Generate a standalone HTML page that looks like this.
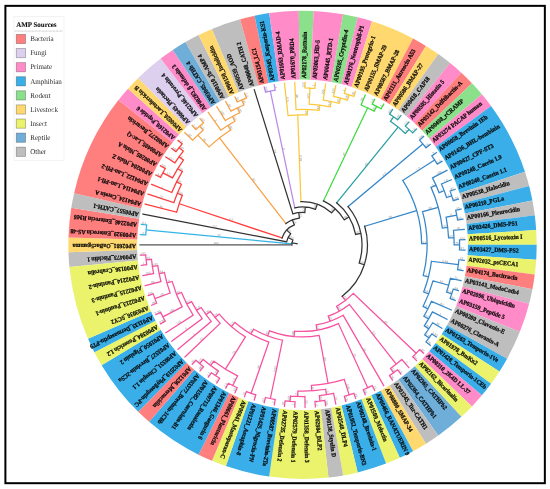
<!DOCTYPE html>
<html><head><meta charset="utf-8"><style>
html,body{margin:0;padding:0;background:#fff;}
svg{display:block;filter:blur(0.35px);text-rendering:geometricPrecision;}
.lb{font-family:"Liberation Serif",serif;font-weight:bold;font-size:6.25px;fill:#000;stroke:#000;stroke-width:0.26px;fill-opacity:0.9;stroke-opacity:0.9;dominant-baseline:central;}
.el{font-family:"Liberation Sans",sans-serif;font-size:3px;fill:#8c8c8c;text-anchor:middle;}
.lg{font-family:"Liberation Serif",serif;font-size:7.4px;fill:#2b2b2b;}
.tt{font-family:"Liberation Serif",serif;font-weight:bold;font-size:7.2px;fill:#111;stroke:#111;stroke-width:0.1px;}
</style></head><body>
<svg width="550" height="489" viewBox="0 0 550 489">
<rect x="0" y="0" width="550" height="489" fill="#fff"/>
<g><path d="M69.41,267.11A234.15,234.15 0 0 1 68.47,252.28L137.18,250.10A165.4,165.4 0 0 0 137.85,260.57Z" fill="#BEBEBE"/><path d="M68.47,252.28A234.15,234.15 0 0 1 68.47,237.42L137.18,239.60A165.4,165.4 0 0 0 137.18,250.10Z" fill="#FFD970"/><path d="M68.47,237.42A234.15,234.15 0 0 1 71.29,207.85L139.18,218.72A165.4,165.4 0 0 0 137.18,239.60Z" fill="#FF7F7F"/><path d="M71.29,207.85A234.15,234.15 0 0 1 74.10,193.26L141.16,208.41A165.4,165.4 0 0 0 139.18,218.72Z" fill="#BEBEBE"/><path d="M74.10,193.26A234.15,234.15 0 0 1 118.45,100.11L172.49,142.61A165.4,165.4 0 0 0 141.16,208.41Z" fill="#FF7F7F"/><path d="M118.45,100.11A234.15,234.15 0 0 1 128.00,88.73L179.23,134.57A165.4,165.4 0 0 0 172.49,142.61Z" fill="#FF8CC8"/><path d="M128.00,88.73A234.15,234.15 0 0 1 138.25,77.97L186.48,126.97A165.4,165.4 0 0 0 179.23,134.57Z" fill="#FFD970"/><path d="M138.25,77.97A234.15,234.15 0 0 1 160.70,58.52L202.33,113.23A165.4,165.4 0 0 0 186.48,126.97Z" fill="#DCD0EE"/><path d="M160.70,58.52A234.15,234.15 0 0 1 172.80,49.90L210.88,107.14A165.4,165.4 0 0 0 202.33,113.23Z" fill="#FF8CC8"/><path d="M172.80,49.90A234.15,234.15 0 0 1 185.42,42.07L219.80,101.61A165.4,165.4 0 0 0 210.88,107.14Z" fill="#6EAED8"/><path d="M185.42,42.07A234.15,234.15 0 0 1 198.52,35.05L229.05,96.65A165.4,165.4 0 0 0 219.80,101.61Z" fill="#BEBEBE"/><path d="M198.52,35.05A234.15,234.15 0 0 1 212.04,28.88L238.60,92.29A165.4,165.4 0 0 0 229.05,96.65Z" fill="#FFD970"/><path d="M212.04,28.88A234.15,234.15 0 0 1 240.11,19.17L258.43,85.43A165.4,165.4 0 0 0 238.60,92.29Z" fill="#BEBEBE"/><path d="M240.11,19.17A234.15,234.15 0 0 1 254.54,15.66L268.62,82.96A165.4,165.4 0 0 0 258.43,85.43Z" fill="#FF7F7F"/><path d="M254.54,15.66A234.15,234.15 0 0 1 269.18,13.08L278.96,81.13A165.4,165.4 0 0 0 268.62,82.96Z" fill="#3AAEE8"/><path d="M269.18,13.08A234.15,234.15 0 0 1 298.78,10.73L299.88,79.47A165.4,165.4 0 0 0 278.96,81.13Z" fill="#FF8CC8"/><path d="M298.78,10.73A234.15,234.15 0 0 1 313.64,10.97L310.37,79.64A165.4,165.4 0 0 0 299.88,79.47Z" fill="#8BE08B"/><path d="M313.64,10.97A234.15,234.15 0 0 1 343.16,14.26L331.22,81.96A165.4,165.4 0 0 0 310.37,79.64Z" fill="#FF8CC8"/><path d="M343.16,14.26A234.15,234.15 0 0 1 357.70,17.30L341.49,84.11A165.4,165.4 0 0 0 331.22,81.96Z" fill="#8BE08B"/><path d="M357.70,17.30A234.15,234.15 0 0 1 372.02,21.26L351.61,86.91A165.4,165.4 0 0 0 341.49,84.11Z" fill="#FF8CC8"/><path d="M372.02,21.26A234.15,234.15 0 0 1 413.08,38.46L380.61,99.06A165.4,165.4 0 0 0 351.61,86.91Z" fill="#FFD970"/><path d="M413.08,38.46A234.15,234.15 0 0 1 425.95,45.89L389.70,104.31A165.4,165.4 0 0 0 380.61,99.06Z" fill="#FF7F7F"/><path d="M425.95,45.89A234.15,234.15 0 0 1 438.32,54.12L398.44,110.12A165.4,165.4 0 0 0 389.70,104.31Z" fill="#FFD970"/><path d="M438.32,54.12A234.15,234.15 0 0 1 450.14,63.12L406.79,116.48A165.4,165.4 0 0 0 398.44,110.12Z" fill="#BEBEBE"/><path d="M450.14,63.12A234.15,234.15 0 0 1 461.37,72.85L414.73,123.35A165.4,165.4 0 0 0 406.79,116.48Z" fill="#FF8CC8"/><path d="M461.37,72.85A234.15,234.15 0 0 1 471.96,83.27L422.21,130.71A165.4,165.4 0 0 0 414.73,123.35Z" fill="#FF7F7F"/><path d="M471.96,83.27A234.15,234.15 0 0 1 481.87,94.34L429.20,138.53A165.4,165.4 0 0 0 422.21,130.71Z" fill="#8BE08B"/><path d="M481.87,94.34A234.15,234.15 0 0 1 491.05,106.02L435.69,146.78A165.4,165.4 0 0 0 429.20,138.53Z" fill="#FF8CC8"/><path d="M491.05,106.02A234.15,234.15 0 0 1 524.96,171.79L459.64,193.24A165.4,165.4 0 0 0 435.69,146.78Z" fill="#3AAEE8"/><path d="M524.96,171.79A234.15,234.15 0 0 1 529.15,186.04L462.60,203.31A165.4,165.4 0 0 0 459.64,193.24Z" fill="#BEBEBE"/><path d="M529.15,186.04A234.15,234.15 0 0 1 532.42,200.54L464.91,213.55A165.4,165.4 0 0 0 462.60,203.31Z" fill="#3AAEE8"/><path d="M532.42,200.54A234.15,234.15 0 0 1 534.77,215.21L466.57,223.91A165.4,165.4 0 0 0 464.91,213.55Z" fill="#BEBEBE"/><path d="M534.77,215.21A234.15,234.15 0 0 1 536.18,230.00L467.57,234.36A165.4,165.4 0 0 0 466.57,223.91Z" fill="#3AAEE8"/><path d="M536.18,230.00A234.15,234.15 0 0 1 536.65,244.85L467.90,244.85A165.4,165.4 0 0 0 467.57,234.36Z" fill="#EAF36B"/><path d="M536.65,244.85A234.15,234.15 0 0 1 536.18,259.70L467.57,255.34A165.4,165.4 0 0 0 467.90,244.85Z" fill="#3AAEE8"/><path d="M536.18,259.70A234.15,234.15 0 0 1 534.77,274.49L466.57,265.79A165.4,165.4 0 0 0 467.57,255.34Z" fill="#EAF36B"/><path d="M534.77,274.49A234.15,234.15 0 0 1 532.42,289.16L464.91,276.15A165.4,165.4 0 0 0 466.57,265.79Z" fill="#FF7F7F"/><path d="M532.42,289.16A234.15,234.15 0 0 1 529.15,303.66L462.60,286.39A165.4,165.4 0 0 0 464.91,276.15Z" fill="#BEBEBE"/><path d="M529.15,303.66A234.15,234.15 0 0 1 519.88,331.87L456.05,306.32A165.4,165.4 0 0 0 462.60,286.39Z" fill="#FF8CC8"/><path d="M519.88,331.87A234.15,234.15 0 0 1 507.11,358.69L447.03,325.27A165.4,165.4 0 0 0 456.05,306.32Z" fill="#BEBEBE"/><path d="M507.11,358.69A234.15,234.15 0 0 1 499.48,371.44L441.64,334.27A165.4,165.4 0 0 0 447.03,325.27Z" fill="#3AAEE8"/><path d="M499.48,371.44A234.15,234.15 0 0 1 491.05,383.68L435.69,342.92A165.4,165.4 0 0 0 441.64,334.27Z" fill="#EAF36B"/><path d="M491.05,383.68A234.15,234.15 0 0 1 481.87,395.36L429.20,351.17A165.4,165.4 0 0 0 435.69,342.92Z" fill="#3AAEE8"/><path d="M481.87,395.36A234.15,234.15 0 0 1 471.96,406.43L422.21,358.99A165.4,165.4 0 0 0 429.20,351.17Z" fill="#FF8CC8"/><path d="M471.96,406.43A234.15,234.15 0 0 1 461.37,416.85L414.73,366.35A165.4,165.4 0 0 0 422.21,358.99Z" fill="#EAF36B"/><path d="M461.37,416.85A234.15,234.15 0 0 1 438.32,435.58L398.44,379.58A165.4,165.4 0 0 0 414.73,366.35Z" fill="#6EAED8"/><path d="M438.32,435.58A234.15,234.15 0 0 1 425.95,443.81L389.70,385.39A165.4,165.4 0 0 0 398.44,379.58Z" fill="#BEBEBE"/><path d="M425.95,443.81A234.15,234.15 0 0 1 413.08,451.24L380.61,390.64A165.4,165.4 0 0 0 389.70,385.39Z" fill="#FFD970"/><path d="M413.08,451.24A234.15,234.15 0 0 1 399.77,457.84L371.21,395.30A165.4,165.4 0 0 0 380.61,390.64Z" fill="#3AAEE8"/><path d="M399.77,457.84A234.15,234.15 0 0 1 386.06,463.58L361.53,399.36A165.4,165.4 0 0 0 371.21,395.30Z" fill="#EAF36B"/><path d="M386.06,463.58A234.15,234.15 0 0 1 357.70,472.40L341.49,405.59A165.4,165.4 0 0 0 361.53,399.36Z" fill="#3AAEE8"/><path d="M357.70,472.40A234.15,234.15 0 0 1 343.16,475.44L331.22,407.74A165.4,165.4 0 0 0 341.49,405.59Z" fill="#EAF36B"/><path d="M343.16,475.44A234.15,234.15 0 0 1 328.45,477.56L320.83,409.23A165.4,165.4 0 0 0 331.22,407.74Z" fill="#BEBEBE"/><path d="M328.45,477.56A234.15,234.15 0 0 1 269.18,476.62L278.96,408.57A165.4,165.4 0 0 0 320.83,409.23Z" fill="#EAF36B"/><path d="M269.18,476.62A234.15,234.15 0 0 1 225.92,466.12L248.40,401.15A165.4,165.4 0 0 0 278.96,408.57Z" fill="#3AAEE8"/><path d="M225.92,466.12A234.15,234.15 0 0 1 212.04,460.82L238.60,397.41A165.4,165.4 0 0 0 248.40,401.15Z" fill="#EAF36B"/><path d="M212.04,460.82A234.15,234.15 0 0 1 198.52,454.65L229.05,393.05A165.4,165.4 0 0 0 238.60,397.41Z" fill="#FF7F7F"/><path d="M198.52,454.65A234.15,234.15 0 0 1 149.16,421.81L194.19,369.85A165.4,165.4 0 0 0 229.05,393.05Z" fill="#3AAEE8"/><path d="M149.16,421.81A234.15,234.15 0 0 1 138.25,411.73L186.48,362.73A165.4,165.4 0 0 0 194.19,369.85Z" fill="#FF7F7F"/><path d="M138.25,411.73A234.15,234.15 0 0 1 101.60,365.13L160.59,329.81A165.4,165.4 0 0 0 186.48,362.73Z" fill="#3AAEE8"/><path d="M101.60,365.13A234.15,234.15 0 0 1 94.38,352.14L155.49,320.64A165.4,165.4 0 0 0 160.59,329.81Z" fill="#EAF36B"/><path d="M94.38,352.14A234.15,234.15 0 0 1 87.99,338.73L150.98,311.16A165.4,165.4 0 0 0 155.49,320.64Z" fill="#3AAEE8"/><path d="M87.99,338.73A234.15,234.15 0 0 1 69.41,267.11L137.85,260.57A165.4,165.4 0 0 0 150.98,311.16Z" fill="#EAF36B"/></g>
<g class="lb"><text transform="translate(136.24 255.42) rotate(176.36) scale(0.93,1)" y="-0.6">AP00473_Piscidin 1</text><text transform="translate(135.90 244.85) rotate(180.00) scale(0.93,1)" y="-0.6">AP02681_OaBac5gamma</text><text transform="translate(136.24 234.28) rotate(183.64) scale(0.93,1)" y="-0.6">AP00929_Enterocin AS-48</text><text transform="translate(137.24 223.76) rotate(187.27) scale(0.93,1)" y="-0.6">AP02246_Enterocin RM6</text><text transform="translate(138.91 213.32) rotate(190.91) scale(0.93,1)" y="-0.6">AP00557_CATH-1</text><text transform="translate(141.24 203.01) rotate(194.55) scale(0.93,1)" y="-0.6">AP04124_Cerein A</text><text transform="translate(144.22 192.87) rotate(198.18) scale(0.93,1)" y="-0.6">AP04114_Lan-Pfl-1</text><text transform="translate(147.83 182.93) rotate(201.82) scale(0.93,1)" y="-0.6">AP04122_Lan-Pfl-2</text><text transform="translate(152.07 173.25) rotate(205.45) scale(0.93,1)" y="-0.6">AP00204_Nisin Z</text><text transform="translate(156.92 163.85) rotate(209.09) scale(0.93,1)" y="-0.6">AP00205_Nisin A</text><text transform="translate(162.35 154.78) rotate(212.73) scale(0.93,1)" y="-0.6">AP00405_Lac-Q</text><text transform="translate(168.34 146.07) rotate(216.36) scale(0.93,1)" y="-0.6">AP00277_Bavaricin</text><text transform="translate(174.88 137.76) rotate(220.00) scale(0.93,1)" y="-0.6">AP02168_Peptide 6</text><text transform="translate(181.93 129.88) rotate(223.64) scale(0.93,1)" y="-0.6">AP00026_Lactoferricin B</text><text transform="translate(189.46 122.47) rotate(227.27) scale(0.93,1)" y="-0.6">AP00049_Plectasin</text><text transform="translate(197.45 115.54) rotate(230.91) scale(0.93,1)" y="-0.6">AP02146_Pyrotoxin 4</text><text transform="translate(205.86 109.14) rotate(234.55) scale(0.93,1)" y="-0.6">AP00283_β defensin 3</text><text transform="translate(214.66 103.29) rotate(238.18) scale(0.93,1)" y="-0.6">AP03045_CATHb 4</text><text transform="translate(223.82 98.00) rotate(241.82) scale(0.93,1)" y="-0.6">AP00110_Ib-AMP 4</text><text transform="translate(233.29 93.31) rotate(245.45) scale(0.93,1)" y="-0.6">AP00150_Indolicidin</text><text transform="translate(243.04 89.22) rotate(249.09) scale(0.93,1)" y="-0.6">AP00539_AOD</text><text transform="translate(253.03 85.76) rotate(252.73) scale(0.93,1)" y="-0.6">AP00048_CATH 2</text><text transform="translate(263.22 82.95) rotate(256.36) scale(0.93,1)" y="-0.6">AP03154_LC1</text><text transform="translate(273.57 80.78) rotate(260.00) scale(0.93,1)" y="-0.6">AP03345_Kasporin-KS1</text><text transform="translate(284.03 79.28) rotate(263.64) scale(0.93,1)" y="-0.6">AP01663_RMAD-4</text><text transform="translate(294.57 78.44) rotate(267.27) scale(0.93,1)" y="-0.6">AP01670_PRD4</text><text transform="translate(305.14 78.27) rotate(270.91) scale(0.93,1)" y="-0.6">AP02178_Rattusin</text><text transform="translate(315.70 78.77) rotate(274.55) scale(0.93,1)" y="-0.6">AP03063_HD-5</text><text transform="translate(326.21 79.95) rotate(278.18) scale(0.93,1)" y="-0.6">AP00445_RTD-1</text><text transform="translate(336.62 81.78) rotate(281.82) scale(0.93,1)" y="-0.6">AP00205_Cryptdin-4</text><text transform="translate(346.89 84.27) rotate(285.45) scale(0.93,1)" y="-0.6">AP00176_Neutrophil-P1</text><text transform="translate(356.99 87.41) rotate(289.09) scale(0.93,1)" y="-0.6">AP00195_Protegrin-1</text><text transform="translate(366.87 91.19) rotate(292.73) scale(0.93,1)" y="-0.6">AP00155_SMAP-29</text><text transform="translate(376.48 95.58) rotate(296.36) scale(0.93,1)" y="-0.6">AP00587_BMAP-28</text><text transform="translate(385.80 100.57) rotate(300.00) scale(0.93,1)" y="-0.6">AP01111_Aureocin A53</text><text transform="translate(394.78 106.14) rotate(303.64) scale(0.93,1)" y="-0.6">AP00586_BMAP-27</text><text transform="translate(403.39 112.28) rotate(307.27) scale(0.93,1)" y="-0.6">AP00418_CAP18</text><text transform="translate(411.60 118.94) rotate(310.91) scale(0.93,1)" y="-0.6">AP00505_Histatin 5</text><text transform="translate(419.37 126.12) rotate(314.55) scale(0.93,1)" y="-0.6">AP03142_Delftibactin-A</text><text transform="translate(426.66 133.77) rotate(318.18) scale(0.93,1)" y="-0.6">AP00498_rCRAMP</text><text transform="translate(433.46 141.86) rotate(321.82) scale(0.93,1)" y="-0.6">AP03274 PACAP human</text><text transform="translate(439.72 150.38) rotate(325.45) scale(0.93,1)" y="-0.6">AP00058_Brevinin 1Eb</text><text transform="translate(445.44 159.27) rotate(329.09) scale(0.93,1)" y="-0.6">AP01436_BHL-bombinin</text><text transform="translate(450.58 168.51) rotate(332.73) scale(0.93,1)" y="-0.6">AP00427_CPF-ST3</text><text transform="translate(455.12 178.05) rotate(336.36) scale(0.93,1)" y="-0.6">AP00248_Caerin 1.9</text><text transform="translate(459.05 187.87) rotate(340.00) scale(0.93,1)" y="-0.6">AP00240_Caerin 1.1</text><text transform="translate(462.35 197.91) rotate(343.64) scale(0.93,1)" y="-0.6">AP00538_Halocidin</text><text transform="translate(465.01 208.15) rotate(347.27) scale(0.93,1)" y="-0.6">AP00210_PGLa</text><text transform="translate(467.01 218.53) rotate(350.91) scale(0.93,1)" y="-0.6">AP00166_Pleurocidin</text><text transform="translate(468.35 229.01) rotate(354.55) scale(0.93,1)" y="-0.6">AP03426_DMS-PS1</text><text transform="translate(469.02 239.56) rotate(358.18) scale(0.93,1)" y="-0.6">AP00516_Lycotoxin I</text><text transform="translate(469.02 250.14) rotate(361.82) scale(0.93,1)" y="-0.6">AP03427_DMS-PS2</text><text transform="translate(468.35 260.69) rotate(365.45) scale(0.93,1)" y="-0.6">AP02032_psCECA1</text><text transform="translate(467.01 271.17) rotate(369.09) scale(0.93,1)" y="-0.6">AP04174_Bacitracin</text><text transform="translate(465.01 281.55) rotate(372.73) scale(0.93,1)" y="-0.6">AP03143_ModoCath4</text><text transform="translate(462.35 291.79) rotate(376.36) scale(0.93,1)" y="-0.6">AP02096_Ubiquicidin</text><text transform="translate(459.05 301.83) rotate(380.00) scale(0.93,1)" y="-0.6">AP03159_Peptide 5</text><text transform="translate(455.12 311.65) rotate(383.64) scale(0.93,1)" y="-0.6">AP00280_Clavanin-E</text><text transform="translate(450.58 321.19) rotate(387.27) scale(0.93,1)" y="-0.6">AP00276_Clavanin-A</text><text transform="translate(445.44 330.43) rotate(390.91) scale(0.93,1)" y="-0.6">AP01263_Temporin-1Ve</text><text transform="translate(439.72 339.32) rotate(394.55) scale(0.93,1)" y="-0.6">AP01978_BmKn2</text><text transform="translate(433.46 347.84) rotate(398.18) scale(0.93,1)" y="-0.6">AP01428_Temporin-1CEb</text><text transform="translate(426.66 355.93) rotate(401.82) scale(0.93,1)" y="-0.6">AP00310_2K4D LL-37</text><text transform="translate(419.37 363.58) rotate(405.45) scale(0.93,1)" y="-0.6">AP02162_Bicarinalin</text><text transform="translate(411.60 370.76) rotate(409.09) scale(0.93,1)" y="-0.6">AP02365_CATHPb2</text><text transform="translate(403.39 377.42) rotate(412.73) scale(0.93,1)" y="-0.6">AP02364_CATHPb1</text><text transform="translate(394.78 383.56) rotate(416.36) scale(0.93,1)" y="-0.6">AP01345_Tur-CATH1</text><text transform="translate(385.80 389.13) rotate(420.00) scale(0.93,1)" y="-0.6">AP00880_SMAP-34</text><text transform="translate(376.48 394.12) rotate(423.64) scale(0.93,1)" y="-0.6">AP00466_RANATUERIN 9</text><text transform="translate(366.87 398.51) rotate(427.27) scale(0.93,1)" y="-0.6">AP01509_Melectin</text><text transform="translate(356.99 402.29) rotate(430.91) scale(0.93,1)" y="-0.6">AP00248_Brevinin-1</text><text transform="translate(346.89 405.43) rotate(434.55) scale(0.93,1)" y="-0.6">AP01952_Temporin-BN3</text><text transform="translate(336.62 407.92) rotate(438.18) scale(0.93,1)" y="-0.6">AP02548_DLP4</text><text transform="translate(326.21 409.75) rotate(441.82) scale(0.93,1)" y="-0.6">AP00138_Styelin D</text><text transform="translate(315.70 410.93) rotate(445.45) scale(0.93,1)" y="-0.6">AP02984_DLP2</text><text transform="translate(305.14 411.43) rotate(449.09) scale(0.93,1)" y="-0.6">AP01358_Defensin 3</text><text transform="translate(294.57 411.26) rotate(452.73) scale(0.93,1)" y="-0.6">AP02579_Defensin 1</text><text transform="translate(284.03 410.42) rotate(456.36) scale(0.93,1)" y="-0.6">AP02735_Defensin 2</text><text transform="translate(273.57 408.92) rotate(460.00) scale(0.93,1)" y="-0.6">AP00587_Brevinin-2Ta</text><text transform="translate(263.22 406.75) rotate(463.64) scale(0.93,1)" y="-0.6">AP01425_Nigrocin-PN</text><text transform="translate(253.03 403.94) rotate(467.27) scale(0.93,1)" y="-0.6">AP01221_Ascaphin-8</text><text transform="translate(243.04 400.48) rotate(470.91) scale(0.93,1)" y="-0.6">AP00841_Mastoparan-C</text><text transform="translate(233.29 396.39) rotate(474.55) scale(0.93,1)" y="-0.6">AP00661_Plantaricin</text><text transform="translate(223.82 391.70) rotate(478.18) scale(0.93,1)" y="-0.6">AP01346_Gaegurin 6</text><text transform="translate(214.66 386.41) rotate(481.82) scale(0.93,1)" y="-0.6">AP00713_Ranalexin</text><text transform="translate(205.86 380.56) rotate(485.45) scale(0.93,1)" y="-0.6">AP01582_Caerulein-B1</text><text transform="translate(197.45 374.16) rotate(489.09) scale(0.93,1)" y="-0.6">AP03377_Brevinin-1CBb</text><text transform="translate(189.46 367.23) rotate(492.73) scale(0.93,1)" y="-0.6">AP01236_Mersacidin</text><text transform="translate(181.93 359.82) rotate(496.36) scale(0.93,1)" y="-0.6">AP02519_Phylloseptin-PC</text><text transform="translate(174.88 351.94) rotate(500.00) scale(0.93,1)" y="-0.6">AP00331_Citropin 1.1</text><text transform="translate(168.34 343.63) rotate(503.64) scale(0.93,1)" y="-0.6">AP03327_Brevinin-2CSa</text><text transform="translate(162.35 334.92) rotate(507.27) scale(0.93,1)" y="-0.6">AP01950_Figainin 2</text><text transform="translate(156.92 325.85) rotate(510.91) scale(0.93,1)" y="-0.6">AP00384_Ponericin L2</text><text transform="translate(152.07 316.45) rotate(514.55) scale(0.93,1)" y="-0.6">AP01133_Dermaseptin-PT9</text><text transform="translate(147.83 306.77) rotate(518.18) scale(0.93,1)" y="-0.6">AP03036_SCY2</text><text transform="translate(144.22 296.83) rotate(521.82) scale(0.93,1)" y="-0.6">AP02213_Pantinin-1</text><text transform="translate(141.24 286.69) rotate(525.45) scale(0.93,1)" y="-0.6">AP02215_Pantinin-3</text><text transform="translate(138.91 276.38) rotate(529.09) scale(0.93,1)" y="-0.6">AP02214_Pantinin-2</text><text transform="translate(137.24 265.94) rotate(532.73) scale(0.93,1)" y="-0.6">AP00136_Crabrolin</text></g>
<g><g fill="none" stroke-width="1.25" stroke-linecap="square"><path d="M145.74,234.89A157.08,157.08 0 0 1 146.68,224.96M145.74,234.89L140.33,234.54M146.68,224.96L141.31,224.28M291.81,243.83L146.13,229.92" stroke="#35B5E5"/><path d="M160.67,177.34A157.08,157.08 0 0 1 165.24,168.48M160.67,177.34L155.77,175.01M165.24,168.48L160.50,165.84M176.01,151.72A157.08,157.08 0 0 1 182.17,143.88M176.01,151.72L171.64,148.50M182.17,143.88L178.02,140.40M174.92,162.86A151.66,151.66 0 0 1 183.29,151.10M174.92,162.86L165.80,157.00M183.29,151.10L179.03,147.75M172.52,177.84A146.24,146.24 0 0 1 183.38,160.02M172.52,177.84L162.88,172.87M183.38,160.02L178.96,156.88M171.77,192.51A140.82,140.82 0 0 1 182.26,171.56M171.77,192.51L151.64,184.45M182.26,171.56L177.63,168.74M173.86,202.60A135.40,135.40 0 0 1 181.42,184.24M173.86,202.60L148.11,194.14M181.42,184.24L176.58,181.82M176.69,212.21A129.98,129.98 0 0 1 182.32,195.35M176.69,212.21L145.21,204.04M182.32,195.35L177.30,193.28M282.03,238.01L179.21,203.68" stroke="#FF3B3B"/><path d="M195.92,129.46A157.08,157.08 0 0 1 203.45,122.93M195.92,129.46L192.24,125.48M203.45,122.93L200.04,118.73M192.74,140.19A151.66,151.66 0 0 1 203.18,130.23M192.74,140.19L184.89,132.71M203.18,130.23L199.63,126.14M237.25,101.97A157.08,157.08 0 0 1 246.44,98.11M237.25,101.97L235.00,97.03M246.44,98.11L244.51,93.05M230.88,111.17A151.66,151.66 0 0 1 243.91,104.97M230.88,111.17L225.76,101.61M243.91,104.97L241.81,99.97M225.40,120.59A146.24,146.24 0 0 1 239.65,112.81M225.40,120.59L216.83,106.77M239.65,112.81L237.32,107.91M220.82,130.14A140.82,140.82 0 0 1 235.01,121.26M220.82,130.14L208.24,112.48M235.01,121.26L232.41,116.50M209.06,146.86A135.40,135.40 0 0 1 230.66,130.08M209.06,146.86L197.84,135.09M230.66,130.08L227.78,125.49M285.94,223.53L219.44,137.92" stroke="#F7A243"/><path d="M265.47,92.20A157.08,157.08 0 0 1 275.22,90.16M265.47,92.20L264.19,86.93M275.22,90.16L274.28,84.82M294.75,207.81L270.33,91.10" stroke="#B98AEB"/><path d="M304.99,87.79A157.08,157.08 0 0 1 314.95,88.26M304.99,87.79L305.08,82.37M314.95,88.26L315.38,82.86M344.36,93.45A157.08,157.08 0 0 1 353.88,96.41M344.36,93.45L345.80,88.23M353.88,96.41L355.65,91.29M333.56,96.40A151.66,151.66 0 0 1 347.53,100.03M333.56,96.40L335.78,85.79M347.53,100.03L349.14,94.85M323.31,100.10A146.24,146.24 0 0 1 339.23,103.30M323.31,100.10L325.63,84.00M339.23,103.30L340.59,98.05M309.20,104.19A140.82,140.82 0 0 1 330.25,106.79M309.20,104.19L309.97,87.95M330.25,106.79L331.31,101.48M296.06,109.60A135.40,135.40 0 0 1 319.11,110.47M296.06,109.60L294.77,82.53M319.11,110.47L319.77,105.09M288.09,115.67A129.98,129.98 0 0 1 307.40,114.96M288.09,115.67L284.49,83.35M307.40,114.96L307.60,109.55M300.91,201.62L297.73,114.96" stroke="#FBC93A"/><path d="M372.25,104.11A157.08,157.08 0 0 1 381.04,108.81M372.25,104.11L374.66,99.25M381.04,108.81L383.75,104.12M361.09,104.97A151.66,151.66 0 0 1 374.12,111.17M361.09,104.97L365.28,94.97M374.12,111.17L376.68,106.39M323.42,200.90L367.68,107.91" stroke="#3DDB3D"/><path d="M389.51,114.07A157.08,157.08 0 0 1 397.63,119.85M389.51,114.07L392.51,109.56M397.63,119.85L400.91,115.54M405.37,126.14A157.08,157.08 0 0 1 412.69,132.90M405.37,126.14L408.91,122.04M412.69,132.90L416.49,129.04M390.47,121.31A151.66,151.66 0 0 1 405.40,133.44M390.47,121.31L393.62,116.90M405.40,133.44L409.08,129.46M336.61,202.86L398.13,127.14" stroke="#2A9FA3"/><path d="M419.57,140.11A157.08,157.08 0 0 1 425.97,147.75M419.57,140.11L423.61,136.50M425.97,147.75L430.23,144.40M431.88,155.78A157.08,157.08 0 0 1 437.27,164.16M431.88,155.78L436.35,152.70M437.27,164.16L441.92,161.38M450.11,191.13A157.08,157.08 0 0 1 453.22,200.60M450.11,191.13L455.20,189.27M453.22,200.60L458.42,199.07M441.44,184.04A151.66,151.66 0 0 1 446.59,197.53M441.44,184.04L451.37,179.70M446.59,197.53L451.74,195.84M432.48,177.84A146.24,146.24 0 0 1 439.11,192.66M432.48,177.84L446.94,170.39M439.11,192.66L444.17,190.72M455.72,210.24A157.08,157.08 0 0 1 457.61,220.03M455.72,210.24L461.01,209.05M457.61,220.03L462.96,219.17M459.50,239.87A157.08,157.08 0 0 1 459.50,249.83M459.50,239.87L464.92,239.69M459.50,249.83L464.92,250.01M453.47,230.43A151.66,151.66 0 0 1 454.16,244.85M453.47,230.43L464.26,229.40M454.16,244.85L459.58,244.85M446.10,217.17A146.24,146.24 0 0 1 448.57,237.89M446.10,217.17L456.74,215.12M448.57,237.89L453.99,237.63M431.05,187.37A140.82,140.82 0 0 1 442.32,228.13M431.05,187.37L436.00,185.16M442.32,228.13L447.71,227.49M458.87,259.78A157.08,157.08 0 0 1 457.61,269.67M458.87,259.78L464.26,260.30M457.61,269.67L462.96,270.53M453.22,289.10A157.08,157.08 0 0 1 450.11,298.57M453.22,289.10L458.42,290.63M450.11,298.57L455.20,300.43M450.43,278.26A151.66,151.66 0 0 1 446.59,292.17M450.43,278.26L461.01,280.65M446.59,292.17L451.74,293.86M431.88,333.92A157.08,157.08 0 0 1 425.97,341.95M431.88,333.92L436.35,337.00M425.97,341.95L430.23,345.30M432.62,322.75A151.66,151.66 0 0 1 424.63,334.77M432.62,322.75L441.92,328.32M424.63,334.77L428.99,337.98M432.48,311.86A146.24,146.24 0 0 1 424.26,325.86M432.48,311.86L446.94,319.31M424.26,325.86L428.77,328.86M431.51,301.31A140.82,140.82 0 0 1 423.89,316.23M431.51,301.31L451.37,310.00M423.89,316.23L428.56,318.97M433.00,280.93A135.40,135.40 0 0 1 423.09,306.42M433.00,280.93L448.68,285.26M423.09,306.42L427.92,308.88M431.43,261.30A129.98,129.98 0 0 1 423.64,291.96M431.43,261.30L458.32,264.74M423.64,291.96L428.69,293.92M422.56,211.66A124.56,124.56 0 0 1 423.22,275.53M422.56,211.66L438.23,207.33M423.22,275.53L428.47,276.87M402.73,180.44A119.14,119.14 0 0 1 421.63,243.61M402.73,180.44L434.64,159.93M421.63,243.61L427.05,243.55M364.71,226.23L416.64,210.69M348.09,206.59L422.83,143.88" stroke="#3587CA"/><path d="M419.57,349.59A157.08,157.08 0 0 1 412.69,356.80M419.57,349.59L423.61,353.20M412.69,356.80L416.49,360.66M397.63,369.85A157.08,157.08 0 0 1 389.51,375.63M397.63,369.85L400.91,374.16M389.51,375.63L392.51,380.14M401.82,359.47A151.66,151.66 0 0 1 390.47,368.39M401.82,359.47L408.91,367.66M390.47,368.39L393.62,372.80M372.25,385.59A157.08,157.08 0 0 1 363.19,389.73M372.25,385.59L374.66,390.45M363.19,389.73L365.28,394.73M353.88,393.29A157.08,157.08 0 0 1 344.36,396.25M353.88,393.29L355.65,398.41M344.36,396.25L345.80,401.47M324.85,400.33A157.08,157.08 0 0 1 314.95,401.44M324.85,400.33L325.63,405.70M314.95,401.44L315.38,406.84M333.56,393.30A151.66,151.66 0 0 1 319.31,395.58M333.56,393.30L335.78,403.91M319.31,395.58L319.91,400.96M295.03,401.75A157.08,157.08 0 0 1 285.09,400.96M295.03,401.75L294.77,407.17M285.09,400.96L284.49,406.35M304.91,396.49A151.66,151.66 0 0 1 290.48,396.03M304.91,396.49L305.08,407.33M290.48,396.03L290.05,401.44M325.61,389.25A146.24,146.24 0 0 1 297.86,391.02M325.61,389.25L326.46,394.60M297.86,391.02L297.69,396.43M344.31,379.32A140.82,140.82 0 0 1 311.43,385.39M344.31,379.32L349.14,394.85M311.43,385.39L311.78,390.80M275.22,399.54A157.08,157.08 0 0 1 265.47,397.50M275.22,399.54L274.28,404.88M265.47,397.50L264.19,402.77M255.86,394.85A157.08,157.08 0 0 1 246.44,391.59M255.86,394.85L254.25,400.02M246.44,391.59L244.51,396.65M237.25,387.73A157.08,157.08 0 0 1 228.32,383.31M237.25,387.73L235.00,392.67M228.32,383.31L225.76,388.09M219.68,378.32A157.08,157.08 0 0 1 211.38,372.80M219.68,378.32L216.83,382.93M211.38,372.80L208.24,377.22M203.45,366.77A157.08,157.08 0 0 1 195.92,360.24M203.45,366.77L200.04,370.97M195.92,360.24L192.24,364.22M218.49,371.12A151.66,151.66 0 0 1 203.18,359.47M218.49,371.12L215.49,375.63M203.18,359.47L199.63,363.56M237.56,375.88A146.24,146.24 0 0 1 213.94,361.22M237.56,375.88L232.75,385.59M213.94,361.22L210.65,365.54M165.24,321.22A157.08,157.08 0 0 1 160.67,312.36M165.24,321.22L160.50,323.86M160.67,312.36L155.77,314.69M156.67,303.23A157.08,157.08 0 0 1 153.26,293.86M156.67,303.23L151.64,305.25M153.26,293.86L148.11,295.56M146.68,264.74A157.08,157.08 0 0 1 145.74,254.81M146.68,264.74L141.31,265.42M145.74,254.81L140.33,255.16M153.58,273.55A151.66,151.66 0 0 1 151.53,259.27M153.58,273.55L142.94,275.60M151.53,259.27L146.13,259.78M160.95,281.58A146.24,146.24 0 0 1 157.75,265.66M160.95,281.58L145.21,285.66M157.75,265.66L152.38,266.43M170.17,293.01A140.82,140.82 0 0 1 164.44,272.60M170.17,293.01L154.89,298.57M164.44,272.60L159.13,273.66M182.15,306.89A135.40,135.40 0 0 1 172.14,281.45M182.15,306.89L162.88,316.83M172.14,281.45L166.92,282.91M193.15,315.12A129.98,129.98 0 0 1 181.55,292.44M193.15,315.12L165.80,332.70M181.55,292.44L176.50,294.42M202.20,318.70A124.56,124.56 0 0 1 191.62,301.60M202.20,318.70L171.64,341.20M191.62,301.60L186.79,304.07M211.23,321.43A119.14,119.14 0 0 1 201.17,307.51M211.23,321.43L178.02,349.30M201.17,307.51L196.56,310.36M220.20,323.33A113.72,113.72 0 0 1 210.34,311.48M220.20,323.33L184.89,356.99M210.34,311.48L205.95,314.65M245.40,336.88A108.30,108.30 0 0 1 219.24,314.10M245.40,336.88L225.40,369.11M219.24,314.10L215.07,317.57M268.85,342.07A102.88,102.88 0 0 1 234.96,322.46M268.85,342.07L251.12,393.29M234.96,322.46L231.40,326.54M282.54,340.24A97.46,97.46 0 0 1 253.68,329.20M282.54,340.24L270.33,398.60M253.68,329.20L250.96,333.89M319.20,335.36A92.04,92.04 0 0 1 269.61,330.81M319.20,335.36L328.05,383.33M269.61,330.81L267.67,335.87M338.48,323.64A86.62,86.62 0 0 1 294.58,331.11M338.48,323.64L367.75,387.73M294.58,331.11L294.09,336.50M343.10,315.17A81.20,81.20 0 0 1 316.11,324.90M343.10,315.17L383.75,385.58M316.11,324.90L317.02,330.24M349.34,304.42A75.78,75.78 0 0 1 328.20,316.14M349.34,304.42L396.25,364.06M328.20,316.14L330.04,321.24M353.42,293.40A70.36,70.36 0 0 1 336.62,306.39M353.42,293.40L416.18,353.25M336.62,306.39L339.24,311.13M342.20,296.24L345.51,300.53" stroke="#F7519F"/><path d="M364.71,226.23A64.94,64.94 0 0 1 342.20,296.24M348.09,206.59A59.52,59.52 0 0 1 359.16,263.07M359.16,263.07L364.32,264.73M336.61,202.86A54.10,54.10 0 0 1 355.59,234.45M355.59,234.45L360.91,233.40M323.42,200.90A48.68,48.68 0 0 1 344.23,219.78M344.23,219.78L348.87,216.99M300.91,201.62A43.26,43.26 0 0 1 331.57,212.82M331.57,212.82L335.22,208.80M294.75,207.81A37.84,37.84 0 0 1 315.48,209.31M315.48,209.31L317.34,204.22M292.87,213.89A32.42,32.42 0 0 1 304.83,212.51M292.87,213.89L254.25,89.68M304.83,212.51L305.22,207.11M285.94,223.53A27.00,27.00 0 0 1 299.41,218.03M299.41,218.03L298.79,212.64M282.03,238.01A21.58,21.58 0 0 1 294.34,224.87M294.34,224.87L292.29,219.85M286.63,241.79A16.16,16.16 0 0 1 290.71,233.80M286.63,241.79L142.94,214.10M290.71,233.80L286.75,230.10M291.76,244.85A10.74,10.74 0 0 1 292.93,239.97M292.93,239.97L288.10,237.51M291.95,242.83L297.10,243.82" stroke="#333333"/><path d="M291.76,244.85L140.00,244.85" stroke="#555555"/></g><g class="el"><text transform="translate(143.03 234.72) rotate(3.64)" y="-0.5">0</text><text transform="translate(144.00 224.62) rotate(7.27)" y="-0.5">0.5</text><text transform="translate(158.22 176.17) rotate(25.45)" y="-0.5">43</text><text transform="translate(162.87 167.16) rotate(29.09)" y="-0.5">100</text><text transform="translate(173.83 150.11) rotate(36.36)" y="-0.5">100</text><text transform="translate(180.09 142.14) rotate(40.00)" y="-0.5">1.0</text><text transform="translate(170.36 159.93) rotate(32.73)" y="-0.5">100</text><text transform="translate(181.16 149.42) rotate(38.18)" y="-0.5">87</text><text transform="translate(167.70 175.36) rotate(27.27)" y="-0.5">1.0</text><text transform="translate(181.17 158.45) rotate(35.45)" y="-0.5">0</text><text transform="translate(161.70 188.48) rotate(21.82)" y="-0.5">1</text><text transform="translate(179.94 170.15) rotate(31.36)" y="-0.5">100</text><text transform="translate(160.99 198.37) rotate(18.18)" y="-0.5">33</text><text transform="translate(179.00 183.03) rotate(26.59)" y="-0.5">87</text><text transform="translate(160.95 208.12) rotate(14.55)" y="-0.5">55</text><text transform="translate(179.81 194.31) rotate(22.39)" y="-0.5">100</text><text transform="translate(194.08 127.47) rotate(47.27)" y="-0.5">1.0</text><text transform="translate(201.74 120.83) rotate(50.91)" y="-0.5">43</text><text transform="translate(188.82 136.45) rotate(43.64)" y="-0.5">43</text><text transform="translate(201.41 128.18) rotate(49.09)" y="-0.5">1.0</text><text transform="translate(236.12 99.50) rotate(65.45)" y="-0.5">55</text><text transform="translate(245.47 95.58) rotate(69.09)" y="-0.5">1.0</text><text transform="translate(228.32 106.39) rotate(61.82)" y="-0.5">87</text><text transform="translate(242.86 102.47) rotate(67.27)" y="-0.5">43</text><text transform="translate(221.11 113.68) rotate(58.18)" y="-0.5">100</text><text transform="translate(238.48 110.36) rotate(64.55)" y="-0.5">100</text><text transform="translate(214.53 121.31) rotate(54.55)" y="-0.5">1</text><text transform="translate(233.71 118.88) rotate(61.36)" y="-0.5">1.0</text><text transform="translate(203.45 140.97) rotate(46.36)" y="-0.5">55</text><text transform="translate(229.22 127.78) rotate(57.95)" y="-0.5">100</text><text transform="translate(264.83 89.56) rotate(76.36)" y="-0.5">100</text><text transform="translate(274.75 87.49) rotate(80.00)" y="-0.5">1</text><text transform="translate(305.04 85.08) rotate(270.91)" y="-0.5">100</text><text transform="translate(315.16 85.56) rotate(274.55)" y="-0.5">1</text><text transform="translate(345.08 90.84) rotate(285.45)" y="-0.5">1</text><text transform="translate(354.76 93.85) rotate(289.09)" y="-0.5">43</text><text transform="translate(334.67 91.10) rotate(281.82)" y="-0.5">100</text><text transform="translate(348.34 97.44) rotate(287.27)" y="-0.5">55</text><text transform="translate(324.47 92.05) rotate(278.18)" y="-0.5">100</text><text transform="translate(339.91 100.67) rotate(284.55)" y="-0.5">87</text><text transform="translate(309.59 96.07) rotate(272.73)" y="-0.5">100</text><text transform="translate(330.78 104.13) rotate(281.36)" y="-0.5">0.5</text><text transform="translate(295.41 96.07) rotate(87.27)" y="-0.5">98</text><text transform="translate(319.44 107.78) rotate(277.05)" y="-0.5">43</text><text transform="translate(286.29 99.51) rotate(83.64)" y="-0.5">0.5</text><text transform="translate(307.50 112.25) rotate(272.16)" y="-0.5">87</text><text transform="translate(373.46 101.68) rotate(296.36)" y="-0.5">1.0</text><text transform="translate(382.40 106.47) rotate(300.00)" y="-0.5">1</text><text transform="translate(363.19 99.97) rotate(292.73)" y="-0.5">98</text><text transform="translate(375.40 108.78) rotate(298.18)" y="-0.5">87</text><text transform="translate(391.01 111.81) rotate(303.64)" y="-0.5">100</text><text transform="translate(399.27 117.70) rotate(307.27)" y="-0.5">100</text><text transform="translate(407.14 124.09) rotate(310.91)" y="-0.5">0.5</text><text transform="translate(414.59 130.97) rotate(314.55)" y="-0.5">1.0</text><text transform="translate(392.04 119.10) rotate(305.45)" y="-0.5">1</text><text transform="translate(407.24 131.45) rotate(312.73)" y="-0.5">1</text><text transform="translate(421.59 138.31) rotate(318.18)" y="-0.5">100</text><text transform="translate(428.10 146.07) rotate(321.82)" y="-0.5">55</text><text transform="translate(434.12 154.24) rotate(325.45)" y="-0.5">0</text><text transform="translate(439.60 162.77) rotate(329.09)" y="-0.5">1.0</text><text transform="translate(452.65 190.20) rotate(340.00)" y="-0.5">87</text><text transform="translate(455.82 199.83) rotate(343.64)" y="-0.5">0.99</text><text transform="translate(446.40 181.87) rotate(336.36)" y="-0.5">1.0</text><text transform="translate(449.16 196.68) rotate(341.82)" y="-0.5">1</text><text transform="translate(439.71 174.11) rotate(332.73)" y="-0.5">100</text><text transform="translate(441.64 191.69) rotate(339.09)" y="-0.5">1</text><text transform="translate(458.36 209.65) rotate(347.27)" y="-0.5">55</text><text transform="translate(460.28 219.60) rotate(350.91)" y="-0.5">62</text><text transform="translate(462.21 239.78) rotate(358.18)" y="-0.5">100</text><text transform="translate(462.21 249.92) rotate(1.82)" y="-0.5">87</text><text transform="translate(458.87 229.92) rotate(354.55)" y="-0.5">43</text><text transform="translate(456.87 244.85) rotate(0.00)" y="-0.5">76</text><text transform="translate(451.42 216.15) rotate(349.09)" y="-0.5">0</text><text transform="translate(451.28 237.76) rotate(357.27)" y="-0.5">62</text><text transform="translate(433.53 186.26) rotate(335.91)" y="-0.5">1</text><text transform="translate(445.01 227.81) rotate(353.18)" y="-0.5">33</text><text transform="translate(461.57 260.04) rotate(5.45)" y="-0.5">62</text><text transform="translate(460.28 270.10) rotate(9.09)" y="-0.5">0</text><text transform="translate(455.82 289.87) rotate(16.36)" y="-0.5">98</text><text transform="translate(452.65 299.50) rotate(20.00)" y="-0.5">55</text><text transform="translate(455.72 279.46) rotate(12.73)" y="-0.5">76</text><text transform="translate(449.16 293.02) rotate(18.18)" y="-0.5">0.5</text><text transform="translate(434.12 335.46) rotate(34.55)" y="-0.5">0.99</text><text transform="translate(428.10 343.63) rotate(38.18)" y="-0.5">76</text><text transform="translate(437.27 325.54) rotate(30.91)" y="-0.5">55</text><text transform="translate(426.81 336.38) rotate(36.36)" y="-0.5">1.0</text><text transform="translate(439.71 315.59) rotate(27.27)" y="-0.5">1</text><text transform="translate(426.51 327.36) rotate(33.64)" y="-0.5">98</text><text transform="translate(441.44 305.66) rotate(23.64)" y="-0.5">87</text><text transform="translate(426.23 317.60) rotate(30.45)" y="-0.5">62</text><text transform="translate(440.84 283.10) rotate(15.45)" y="-0.5">33</text><text transform="translate(425.51 307.65) rotate(27.05)" y="-0.5">0</text><text transform="translate(444.88 263.02) rotate(7.27)" y="-0.5">0.99</text><text transform="translate(426.17 292.94) rotate(21.25)" y="-0.5">62</text><text transform="translate(430.39 209.49) rotate(344.55)" y="-0.5">98</text><text transform="translate(425.85 276.20) rotate(14.26)" y="-0.5">1</text><text transform="translate(418.69 170.18) rotate(327.27)" y="-0.5">1.0</text><text transform="translate(424.34 243.58) rotate(359.40)" y="-0.5">1.0</text><text transform="translate(421.59 351.39) rotate(41.82)" y="-0.5">87</text><text transform="translate(414.59 358.73) rotate(45.45)" y="-0.5">43</text><text transform="translate(399.27 372.00) rotate(52.73)" y="-0.5">0.5</text><text transform="translate(391.01 377.89) rotate(56.36)" y="-0.5">76</text><text transform="translate(405.37 363.56) rotate(49.09)" y="-0.5">0</text><text transform="translate(392.04 370.60) rotate(54.55)" y="-0.5">0.5</text><text transform="translate(373.46 388.02) rotate(63.64)" y="-0.5">33</text><text transform="translate(364.23 392.23) rotate(67.27)" y="-0.5">62</text><text transform="translate(354.76 395.85) rotate(70.91)" y="-0.5">43</text><text transform="translate(345.08 398.86) rotate(74.55)" y="-0.5">100</text><text transform="translate(325.24 403.01) rotate(81.82)" y="-0.5">100</text><text transform="translate(315.16 404.14) rotate(85.45)" y="-0.5">1.0</text><text transform="translate(334.67 398.60) rotate(78.18)" y="-0.5">76</text><text transform="translate(319.61 398.27) rotate(83.64)" y="-0.5">87</text><text transform="translate(294.90 404.46) rotate(-87.27)" y="-0.5">1</text><text transform="translate(284.79 403.66) rotate(-83.64)" y="-0.5">76</text><text transform="translate(304.99 401.91) rotate(89.09)" y="-0.5">33</text><text transform="translate(290.27 398.73) rotate(-85.45)" y="-0.5">100</text><text transform="translate(326.03 391.93) rotate(80.91)" y="-0.5">0</text><text transform="translate(297.77 393.73) rotate(-88.18)" y="-0.5">0</text><text transform="translate(346.73 387.08) rotate(72.73)" y="-0.5">0.99</text><text transform="translate(311.60 388.09) rotate(86.36)" y="-0.5">0</text><text transform="translate(274.75 402.21) rotate(-80.00)" y="-0.5">1</text><text transform="translate(264.83 400.14) rotate(-76.36)" y="-0.5">62</text><text transform="translate(255.06 397.43) rotate(-72.73)" y="-0.5">1</text><text transform="translate(245.47 394.12) rotate(-69.09)" y="-0.5">76</text><text transform="translate(236.12 390.20) rotate(-65.45)" y="-0.5">62</text><text transform="translate(227.04 385.70) rotate(-61.82)" y="-0.5">1.0</text><text transform="translate(218.25 380.63) rotate(-58.18)" y="-0.5">100</text><text transform="translate(209.81 375.01) rotate(-54.55)" y="-0.5">1.0</text><text transform="translate(201.74 368.87) rotate(-50.91)" y="-0.5">98</text><text transform="translate(194.08 362.23) rotate(-47.27)" y="-0.5">62</text><text transform="translate(216.99 373.37) rotate(-56.36)" y="-0.5">0.99</text><text transform="translate(201.41 361.52) rotate(-49.09)" y="-0.5">100</text><text transform="translate(235.15 380.74) rotate(-63.64)" y="-0.5">1.0</text><text transform="translate(212.29 363.38) rotate(-52.73)" y="-0.5">100</text><text transform="translate(162.87 322.54) rotate(-29.09)" y="-0.5">0.99</text><text transform="translate(158.22 313.53) rotate(-25.45)" y="-0.5">0.99</text><text transform="translate(154.16 304.24) rotate(-21.82)" y="-0.5">98</text><text transform="translate(150.69 294.71) rotate(-18.18)" y="-0.5">100</text><text transform="translate(144.00 265.08) rotate(-7.27)" y="-0.5">1</text><text transform="translate(143.03 254.98) rotate(-3.64)" y="-0.5">100</text><text transform="translate(148.26 274.58) rotate(-10.91)" y="-0.5">100</text><text transform="translate(148.83 259.52) rotate(-5.45)" y="-0.5">62</text><text transform="translate(153.08 283.62) rotate(-14.55)" y="-0.5">98</text><text transform="translate(155.07 266.05) rotate(-8.18)" y="-0.5">0.99</text><text transform="translate(162.53 295.79) rotate(-20.00)" y="-0.5">43</text><text transform="translate(161.78 273.13) rotate(-11.36)" y="-0.5">33</text><text transform="translate(172.52 311.86) rotate(-27.27)" y="-0.5">100</text><text transform="translate(169.53 282.18) rotate(-15.68)" y="-0.5">0</text><text transform="translate(179.48 323.91) rotate(-32.73)" y="-0.5">100</text><text transform="translate(179.02 293.43) rotate(-21.48)" y="-0.5">62</text><text transform="translate(186.92 329.95) rotate(-36.36)" y="-0.5">0</text><text transform="translate(189.20 302.83) rotate(-27.10)" y="-0.5">0.5</text><text transform="translate(194.63 335.37) rotate(-40.00)" y="-0.5">1</text><text transform="translate(198.87 308.94) rotate(-31.73)" y="-0.5">1.0</text><text transform="translate(202.55 340.16) rotate(-43.64)" y="-0.5">62</text><text transform="translate(208.15 313.07) rotate(-35.87)" y="-0.5">100</text><text transform="translate(235.40 352.99) rotate(-58.18)" y="-0.5">55</text><text transform="translate(217.15 315.84) rotate(-39.75)" y="-0.5">76</text><text transform="translate(259.99 367.68) rotate(-70.91)" y="-0.5">98</text><text transform="translate(233.18 324.50) rotate(-48.97)" y="-0.5">0.5</text><text transform="translate(276.43 369.42) rotate(-78.18)" y="-0.5">0.99</text><text transform="translate(252.32 331.55) rotate(-59.94)" y="-0.5">55</text><text transform="translate(323.63 359.35) rotate(79.55)" y="-0.5">43</text><text transform="translate(268.64 333.34) rotate(-69.06)" y="-0.5">43</text><text transform="translate(353.12 355.69) rotate(65.45)" y="-0.5">33</text><text transform="translate(294.34 333.81) rotate(-84.76)" y="-0.5">100</text><text transform="translate(363.42 350.38) rotate(60.00)" y="-0.5">62</text><text transform="translate(316.57 327.57) rotate(80.35)" y="-0.5">1.0</text><text transform="translate(372.80 334.24) rotate(51.82)" y="-0.5">0.5</text><text transform="translate(329.12 318.69) rotate(70.17)" y="-0.5">62</text><text transform="translate(384.80 323.33) rotate(43.64)" y="-0.5">43</text><text transform="translate(337.93 308.76) rotate(61.00)" y="-0.5">87</text><text transform="translate(390.68 218.46) rotate(343.34)" y="-0.5">98</text><text transform="translate(343.85 298.39) rotate(52.32)" y="-0.5">33</text><text transform="translate(385.46 175.24) rotate(320.00)" y="-0.5">0.5</text><text transform="translate(361.74 263.90) rotate(17.83)" y="-0.5">100</text><text transform="translate(367.37 165.00) rotate(309.09)" y="-0.5">43</text><text transform="translate(358.25 233.93) rotate(348.91)" y="-0.5">100</text><text transform="translate(345.55 154.40) rotate(295.45)" y="-0.5">87</text><text transform="translate(346.55 218.38) rotate(329.00)" y="-0.5">98</text><text transform="translate(299.32 158.29) rotate(87.90)" y="-0.5">0.99</text><text transform="translate(333.40 210.81) rotate(312.23)" y="-0.5">43</text><text transform="translate(282.54 149.46) rotate(78.18)" y="-0.5">0</text><text transform="translate(316.41 206.76) rotate(290.06)" y="-0.5">100</text><text transform="translate(273.56 151.79) rotate(72.73)" y="-0.5">33</text><text transform="translate(305.03 209.81) rotate(274.12)" y="-0.5">43</text><text transform="translate(252.69 180.72) rotate(52.16)" y="-0.5">55</text><text transform="translate(299.10 215.34) rotate(83.42)" y="-0.5">0.5</text><text transform="translate(230.62 220.85) rotate(18.47)" y="-0.5">1.0</text><text transform="translate(293.32 222.36) rotate(67.79)" y="-0.5">0.5</text><text transform="translate(214.78 227.94) rotate(10.91)" y="-0.5">0.5</text><text transform="translate(288.73 231.95) rotate(43.13)" y="-0.5">55</text><text transform="translate(215.88 244.85) rotate(0.00)" y="-0.5">100</text><text transform="translate(218.97 236.87) rotate(5.45)" y="-0.5">55</text><text transform="translate(290.52 238.74) rotate(27.02)" y="-0.5">100</text></g></g>
<g>
<rect x="14" y="16.5" width="50" height="144" fill="none" stroke="#f1f1f1" stroke-width="0.8"/>
<text transform="translate(16.2 27.3) scale(0.97,1)" class="tt">AMP Sources</text>
<line x1="15.2" y1="31.1" x2="62.9" y2="31.1" stroke="#aaa" stroke-width="0.7" stroke-dasharray="0.9 0.5"/>
<rect x="16.3" y="34.40" width="9.2" height="9.2" fill="#FF7F7F" stroke="rgba(0,0,0,0.28)" stroke-width="0.9"/><text transform="translate(30.2 41.25) scale(0.95,1)" class="lg">Bacteria</text><rect x="16.3" y="48.50" width="9.2" height="9.2" fill="#DCD0EE" stroke="rgba(0,0,0,0.28)" stroke-width="0.9"/><text transform="translate(30.2 55.35) scale(0.95,1)" class="lg">Fungi</text><rect x="16.3" y="62.60" width="9.2" height="9.2" fill="#FF8CC8" stroke="rgba(0,0,0,0.28)" stroke-width="0.9"/><text transform="translate(30.2 69.45) scale(0.95,1)" class="lg">Primate</text><rect x="16.3" y="76.70" width="9.2" height="9.2" fill="#3AAEE8" stroke="rgba(0,0,0,0.28)" stroke-width="0.9"/><text transform="translate(30.2 83.55) scale(0.95,1)" class="lg">Amphibian</text><rect x="16.3" y="90.80" width="9.2" height="9.2" fill="#8BE08B" stroke="rgba(0,0,0,0.28)" stroke-width="0.9"/><text transform="translate(30.2 97.65) scale(0.95,1)" class="lg">Rodent</text><rect x="16.3" y="104.90" width="9.2" height="9.2" fill="#FFD970" stroke="rgba(0,0,0,0.28)" stroke-width="0.9"/><text transform="translate(30.2 111.75) scale(0.95,1)" class="lg">Livestock</text><rect x="16.3" y="119.00" width="9.2" height="9.2" fill="#EAF36B" stroke="rgba(0,0,0,0.28)" stroke-width="0.9"/><text transform="translate(30.2 125.85) scale(0.95,1)" class="lg">Insect</text><rect x="16.3" y="133.10" width="9.2" height="9.2" fill="#6EAED8" stroke="rgba(0,0,0,0.28)" stroke-width="0.9"/><text transform="translate(30.2 139.95) scale(0.95,1)" class="lg">Reptile</text><rect x="16.3" y="147.20" width="9.2" height="9.2" fill="#BEBEBE" stroke="rgba(0,0,0,0.28)" stroke-width="0.9"/><text transform="translate(30.2 154.05) scale(0.95,1)" class="lg">Other</text>
</g>
<rect x="5.4" y="5.85" width="539.45" height="477.35" fill="none" stroke="#000" stroke-width="2"/>
</svg>
</body></html>
